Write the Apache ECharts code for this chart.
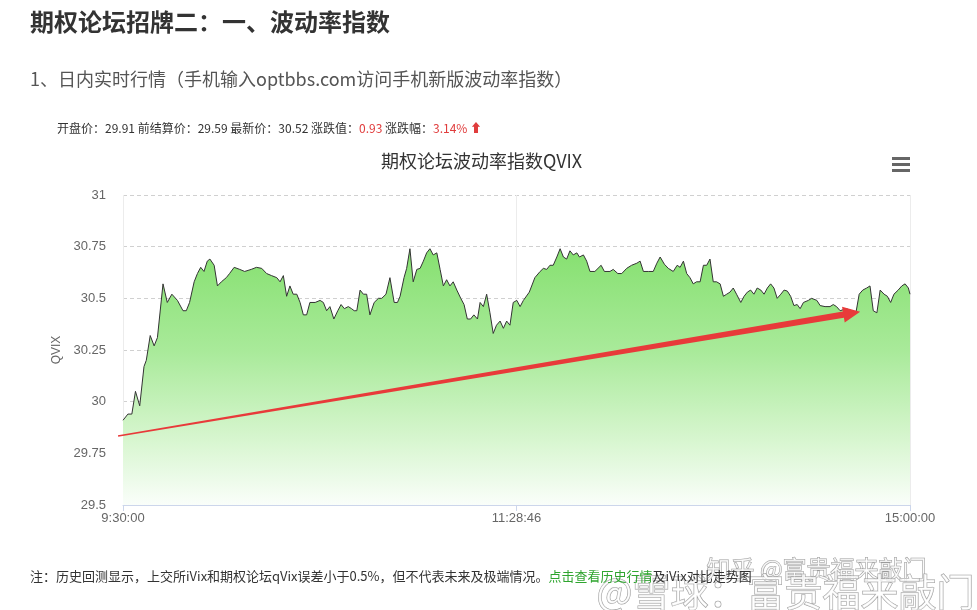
<!DOCTYPE html>
<html>
<head>
<meta charset="utf-8">
<script src="https://cdn.jsdelivr.net/npm/echarts@6/dist/echarts.min.js"></script>
<style>
  html, body { margin: 0; padding: 0; background: #fff; }
  body { width: 977px; height: 610px; position: relative; overflow: hidden;
         font-family: "Noto Sans CJK SC", "Noto Sans", sans-serif; }
  #chart { position: absolute; left: 0; top: 0; width: 977px; height: 610px; }
  .txt { position: absolute; white-space: nowrap; z-index: 2; }
  .h1 { left: 30px; top: 3px; font-size: 24px; font-weight: bold; color: #333; }
  .h2 { left: 30px; top: 65px; font-size: 18px; color: #555; }
  .info { left: 57px; top: 119px; font-size: 12px; color: #333; }
  .info .red { color: #e03c3c; }
  .note { left: 30px; top: 566px; font-size: 13px; color: #333; }
  .note .green { color: #2fa52f; }
</style>
</head>
<body>
<div class="txt h1">期权论坛招牌二：一、波动率指数</div>
<div class="txt h2">1、日内实时行情（手机输入optbbs.com访问手机新版波动率指数）</div>
<div class="txt info">开盘价：29.91 前结算价：29.59 最新价：30.52 涨跌值：<span class="red">0.93</span> 涨跌幅：<span class="red">3.14% &#11014;</span></div>
<div class="txt note">注：历史回测显示，上交所iVix和期权论坛qVix误差小于0.5%，但不代表未来及极端情况。<span class="green">点击查看历史行情</span>及iVix对比走势图</div>
<div id="chart"></div>
<script>
// minutes since 9:30 open (trading minutes) and QVIX values
const minutes = [
  0, 1.5, 2.7, 3.8, 5.1, 6.4, 7.1, 8.3, 9.5, 10.5, 12.2, 13.5, 14.9, 16.6, 18.3, 19.3, 20.3, 21.7, 22.7, 23.7,
  24.7, 25.7, 26.5, 27.8, 28.8, 30.0, 31.5, 32.5, 33.9, 35.6, 37.1, 39.1, 40.7, 42.3, 43.8, 45.3, 46.9, 47.9, 48.9, 49.9,
  50.9, 51.9, 53.0, 54.0, 55.0, 56.0, 57.0, 58.6, 60.1, 61.1, 62.1, 63.1, 64.3, 65.5, 66.5, 67.5, 68.7, 69.7, 70.5, 71.3,
  72.3, 73.3, 74.3, 75.3, 76.6, 77.9, 78.9, 80.2, 81.4, 82.7, 83.7, 84.5, 85.7, 86.5, 87.5, 88.5, 89.6, 90.6, 91.6, 92.6,
  93.6, 94.6, 95.7, 96.7, 97.7, 98.7, 99.7, 100.7, 101.8, 103.0, 104.0, 105.0, 106.0, 107.0, 108.1, 108.9, 109.9, 110.9, 111.9, 112.9,
  113.9, 115.0, 116.0, 117.0, 118.0, 119.0, 120.1, 121.1, 122.1, 123.9, 125.6, 127.2, 128.2, 129.2, 130.2, 131.2, 132.3, 133.3, 134.3, 135.3,
  136.3, 137.3, 138.4, 139.2, 140.4, 141.4, 142.4, 143.9, 145.8, 146.8, 148.5, 149.5, 150.9, 152.1, 153.6, 155.1, 156.7, 157.7, 158.7, 160.2,
  161.7, 162.8, 163.8, 165.1, 166.3, 167.8, 169.0, 169.9, 170.9, 171.9, 172.9, 173.9, 174.9, 176.0, 177.0, 178.0, 179.0, 180.0, 181.0, 182.1,
  183.1, 184.1, 185.1, 186.1, 187.1, 188.4, 189.4, 190.4, 191.4, 192.4, 193.4, 194.5, 195.5, 196.5, 197.5, 198.5, 199.5, 200.6, 201.6, 202.6,
  203.6, 204.6, 205.6, 206.5, 207.5, 209.0, 210.0, 211.6, 212.6, 214.1, 215.6, 216.6, 217.6, 218.7, 220.5, 222.3, 223.5, 224.5, 225.6, 226.8,
  227.8, 228.8, 229.9, 230.9, 232.1, 233.1, 234.1, 235.1, 236.4, 237.5, 238.5, 239.5, 240
]
const qvix = [
  29.91, 29.94, 29.94, 30.05, 29.98, 30.17, 30.20, 30.32, 30.27, 30.31, 30.57, 30.48, 30.52, 30.49, 30.44, 30.44, 30.48, 30.58, 30.62, 30.65,
  30.63, 30.68, 30.69, 30.66, 30.56, 30.58, 30.60, 30.62, 30.65, 30.64, 30.63, 30.64, 30.65, 30.645, 30.62, 30.61, 30.60, 30.58, 30.61, 30.51,
  30.56, 30.52, 30.52, 30.48, 30.42, 30.42, 30.48, 30.48, 30.49, 30.48, 30.44, 30.46, 30.40, 30.44, 30.47, 30.45, 30.46, 30.45, 30.44, 30.44,
  30.54, 30.52, 30.52, 30.42, 30.48, 30.50, 30.50, 30.52, 30.60, 30.48, 30.48, 30.51, 30.60, 30.645, 30.74, 30.58, 30.64, 30.645, 30.68, 30.72,
  30.74, 30.71, 30.72, 30.64, 30.56, 30.59, 30.56, 30.58, 30.54, 30.50, 30.47, 30.40, 30.40, 30.42, 30.40, 30.48, 30.46, 30.52, 30.43, 30.33,
  30.37, 30.39, 30.355, 30.39, 30.37, 30.48, 30.49, 30.46, 30.49, 30.53, 30.60, 30.63, 30.645, 30.64, 30.66, 30.66, 30.70, 30.74, 30.70, 30.69,
  30.73, 30.71, 30.72, 30.70, 30.71, 30.68, 30.63, 30.63, 30.66, 30.63, 30.63, 30.64, 30.62, 30.62, 30.645, 30.66, 30.67, 30.68, 30.63, 30.63,
  30.63, 30.67, 30.70, 30.665, 30.645, 30.63, 30.66, 30.65, 30.68, 30.62, 30.60, 30.57, 30.58, 30.58, 30.66, 30.66, 30.69, 30.58, 30.58, 30.57,
  30.51, 30.52, 30.53, 30.55, 30.52, 30.48, 30.51, 30.53, 30.54, 30.52, 30.55, 30.54, 30.52, 30.55, 30.57, 30.55, 30.50, 30.52, 30.54, 30.535,
  30.51, 30.465, 30.47, 30.45, 30.48, 30.49, 30.50, 30.49, 30.465, 30.46, 30.46, 30.47, 30.46, 30.44, 30.45, 30.44, 30.43, 30.52, 30.54, 30.55,
  30.56, 30.44, 30.43, 30.54, 30.52, 30.51, 30.48, 30.52, 30.54, 30.56, 30.57, 30.55, 30.52
]
const xTickLabels = ['9:30:00', '11:28:46', '15:00:00']
// hand-drawn red arrow on the screenshot, in data units [minute, value]
const arrowFrom = [-1.5, 29.834]
const arrowTo = [224.8, 30.435]

const chart = echarts.init(document.getElementById('chart'))
const seriesData = minutes.map((m, i) => [m, qvix[i]])

chart.setOption({
  animation: false,
  title: {
    text: '期权论坛波动率指数QVIX',
    left: 376,
    top: 147,
    textStyle: { fontSize: 18, fontWeight: 'normal', color: '#333', fontFamily: 'Noto Sans CJK SC' }
  },
  toolbox: {
    right: 52,
    top: 142,
    itemSize: 18,
    feature: {
      myMenu: {
        show: true,
        title: '',
        icon: 'path://M0,0H18V3H0Z M0,6H18V9H0Z M0,12H18V15H0Z',
        onclick: function () {}
      }
    },
    iconStyle: { color: '#666', borderWidth: 0 }
  },
  grid: { left: 123, right: 67, top: 195, bottom: 105 },
  xAxis: {
    type: 'value',
    min: 0,
    max: 240,
    interval: 120,
    axisLine: { lineStyle: { color: '#ccd6eb' } },
    axisTick: { show: true, length: 6, lineStyle: { color: '#ccd6eb' } },
    axisLabel: {
      color: '#666',
      fontSize: 13,
      margin: 7,
      formatter: v => xTickLabels[Math.round(v / 120)]
    },
    splitLine: { show: true, lineStyle: { color: '#ececec' } }
  },
  yAxis: {
    type: 'value',
    min: 29.5,
    max: 31,
    interval: 0.25,
    name: 'QVIX',
    nameLocation: 'middle',
    nameRotate: 90,
    nameGap: 60,
    nameTextStyle: { color: '#666', fontSize: 12 },
    axisLine: { show: false },
    axisTick: { show: false },
    axisLabel: { color: '#666', fontSize: 13, margin: 17 },
    splitLine: { lineStyle: { color: '#d0d0d0', type: [4, 3] } }
  },
  series: [{
    name: 'QVIX',
    type: 'line',
    data: seriesData,
    showSymbol: false,
    lineStyle: { color: '#333', width: 1 },
    areaStyle: {
      opacity: 1,
      color: {
        type: 'linear', x: 0, y: 0, x2: 0, y2: 1,
        colorStops: [
          { offset: 0, color: '#86e070' },
          { offset: 0.4, color: '#a9ea9a' },
          { offset: 0.75, color: '#d8f6d0' },
          { offset: 1, color: '#fafefa' }
        ]
      }
    }
  }]
})

// red arrow overlay
const p0 = chart.convertToPixel({ gridIndex: 0 }, arrowFrom)
const p1 = chart.convertToPixel({ gridIndex: 0 }, arrowTo)
const dx = p1[0] - p0[0], dy = p1[1] - p0[1]
const len = Math.sqrt(dx * dx + dy * dy)
const ux = dx / len, uy = dy / len
const nx = -uy, ny = ux
const headLen = 17
const hb = [p1[0] - ux * headLen, p1[1] - uy * headLen]
const pt = (b, w) => [b[0] + nx * w, b[1] + ny * w]
chart.setOption({
  graphic: [{
    type: 'polygon',
    z: 100,
    shape: {
      points: [pt(p0, 0.8), pt(hb, 3.2), pt(hb, 8), p1, pt(hb, -8), pt(hb, -3.2), pt(p0, -0.8)]
    },
    style: { fill: '#e83a3a' }
  }, {
    type: 'text',
    z: 101,
    left: 706,
    top: 556,
    style: { text: '知乎 @富贵福来敲门', fontSize: 24, fill: 'rgba(255,255,255,0.75)', stroke: '#9a9a9a', lineWidth: 1, fontFamily: 'Noto Sans CJK SC' }
  }, {
    type: 'text',
    z: 101,
    left: 596,
    top: 572,
    style: { text: '@雪球：富贵福来敲门', fontSize: 38, fill: 'rgba(255,255,255,0.75)', stroke: '#9a9a9a', lineWidth: 1, fontFamily: 'Noto Sans CJK SC' }
  }]
})
</script>
</body>
</html>
